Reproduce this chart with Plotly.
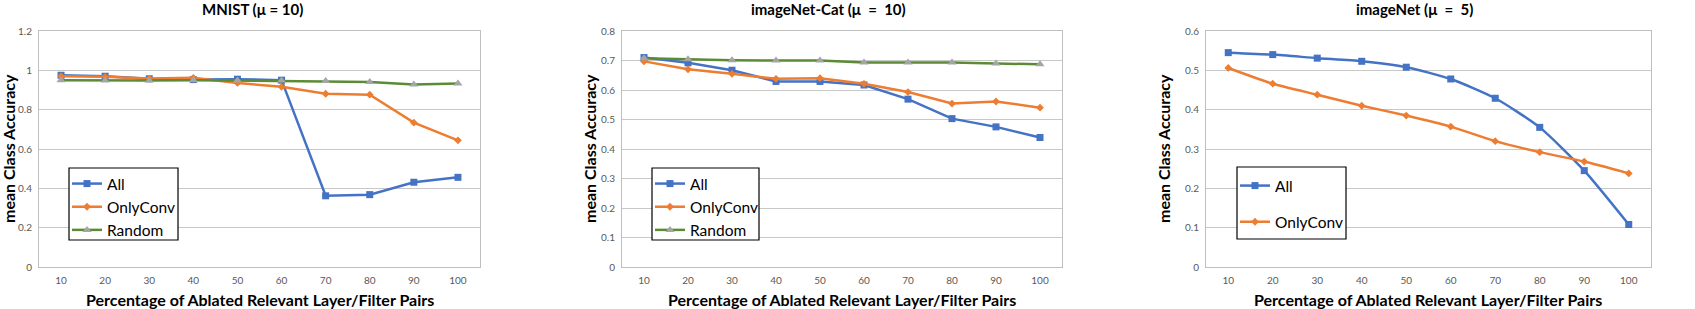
import plotly.graph_objects as go

pct = [10, 20, 30, 40, 50, 60, 70, 80, 90, 100]

mnist_all = [0.975, 0.970, 0.957, 0.953, 0.955, 0.950, 0.362, 0.368, 0.431, 0.456]
mnist_conv = [0.970, 0.967, 0.958, 0.962, 0.936, 0.916, 0.881, 0.876, 0.734, 0.644]
mnist_rand = [0.950, 0.948, 0.948, 0.950, 0.948, 0.948, 0.946, 0.941, 0.928, 0.933]

cat_all = [0.710, 0.692, 0.667, 0.629, 0.629, 0.617, 0.569, 0.503, 0.475, 0.439]
cat_conv = [0.697, 0.670, 0.655, 0.638, 0.640, 0.621, 0.593, 0.554, 0.561, 0.540]
cat_rand = [0.708, 0.704, 0.701, 0.700, 0.700, 0.693, 0.693, 0.693, 0.690, 0.687]

inet_all = [0.545, 0.540, 0.531, 0.523, 0.508, 0.478, 0.429, 0.355, 0.245, 0.108]
inet_conv = [0.506, 0.466, 0.438, 0.410, 0.385, 0.357, 0.320, 0.292, 0.268, 0.238]

titles = ["MNIST (μ = 10)", "imageNet-Cat (μ  =  10)", "imageNet (μ  =  5)"]
x_title = "Percentage of Ablated Relevant Layer/Filter Pairs"
y_title = "mean Class Accuracy"

BLUE = "#4472C4"
ORANGE = "#ED7D31"
GREEN = "#5B8B36"
GRAY = "#A5A5A5"
FONT = "Lato"

W, H = 1695, 309
def px(x):
    return x / W
def py(y):
    return 1 - y / H

fig = go.Figure()

# layout per panel: plot-area box, legend box (left, top, right, bottom)
panels = [
    dict(data=[("All", mnist_all), ("OnlyConv", mnist_conv), ("Random", mnist_rand)],
         xd=(39, 480), yr=(0, 1.2), ydt=0.2, spline=False,
         title_x=252, ytitle_x=9, xtitle_x=260, box=(69, 168, 178, 240), legtop=167, gap=0),
    dict(data=[("All", cat_all), ("OnlyConv", cat_conv), ("Random", cat_rand)],
         xd=(622, 1062), yr=(0, 0.8), ydt=0.1, spline=False,
         title_x=828, ytitle_x=590, xtitle_x=842, box=(652, 168, 759, 240), legtop=167, gap=0),
    dict(data=[("All", inet_all), ("OnlyConv", inet_conv)],
         xd=(1206, 1651), yr=(0, 0.6), ydt=0.1, spline=True,
         title_x=1414, ytitle_x=1164, xtitle_x=1428, box=(1237, 167, 1346, 239), legtop=169, gap=13),
]

styles = {
    "All": dict(line=dict(color=BLUE, width=2.5), marker=dict(symbol="square", size=7, color=BLUE)),
    "OnlyConv": dict(line=dict(color=ORANGE, width=2.5), marker=dict(symbol="diamond", size=6, color=ORANGE)),
    "Random": dict(line=dict(color=GREEN, width=2.5), marker=dict(symbol="triangle-up", size=8, color=GRAY)),
}

annotations = []
shapes = []
for i, p in enumerate(panels):
    n = "" if i == 0 else str(i + 1)
    legname = "legend" if i == 0 else f"legend{i + 1}"
    for name, vals in p["data"]:
        st = styles[name]
        line = dict(st["line"])
        if p["spline"]:
            line["shape"] = "spline"
            line["smoothing"] = 0.6
        fig.add_trace(go.Scatter(
            x=pct, y=vals, name=name, mode="lines+markers",
            line=line, marker=st["marker"],
            xaxis="x" + n, yaxis="y" + n, legend=legname,
            legendgroup=name + n,
        ))
    ticks_y = []
    v = 0.0
    while v <= p["yr"][1] + 1e-9:
        ticks_y.append(round(v, 2))
        v += p["ydt"]
    bl, bt, br, bb = p["box"]
    fig.update_layout(**{
        "xaxis" + n: dict(
            domain=[px(p["xd"][0]), px(p["xd"][1])], range=[5, 105],
            tickvals=pct, ticktext=[str(t) for t in pct],
            showgrid=False, zeroline=False, showline=True, mirror=True,
            linecolor="#BFBFBF", linewidth=1, automargin=False,
            ticks="outside", ticklen=4, tickcolor="rgba(0,0,0,0)",
            tickfont=dict(family=FONT, size=10, color="#595959"),
            anchor="y" + n, fixedrange=True,
        ),
        "yaxis" + n: dict(
            domain=[py(267), py(31)], range=list(p["yr"]),
            tickvals=ticks_y, ticktext=[("%g" % t) for t in ticks_y],
            showgrid=True, gridcolor="#C8C8C8", gridwidth=1,
            zeroline=False, showline=True, mirror=True,
            linecolor="#BFBFBF", linewidth=1, automargin=False,
            ticks="outside", ticklen=4, tickcolor="rgba(0,0,0,0)",
            tickfont=dict(family=FONT, size=10, color="#595959"),
            anchor="x" + n, fixedrange=True,
        ),
        legname: dict(
            x=px(bl - 2), y=py(p["legtop"]), xanchor="left", yanchor="top",
            xref="paper", yref="paper",
            borderwidth=0, bgcolor="rgba(0,0,0,0)",
            font=dict(family=FONT, size=15.5, color="black"),
            tracegroupgap=p["gap"], itemwidth=30,
        ),
    })
    shapes.append(dict(type="rect", xref="paper", yref="paper",
                       x0=px(bl), x1=px(br), y0=py(bb), y1=py(bt),
                       line=dict(color="black", width=1.2), fillcolor="white", layer="above"))
    annotations.append(dict(text="<b>" + titles[i] + "</b>",
                            x=px(p["title_x"]), y=py(9), xref="paper", yref="paper",
                            xanchor="center", yanchor="middle", showarrow=False,
                            font=dict(family=FONT, size=15, color="black")))
    annotations.append(dict(text="<b>" + x_title + "</b>",
                            x=px(p["xtitle_x"]), y=py(299), xref="paper", yref="paper",
                            xanchor="center", yanchor="middle", showarrow=False,
                            font=dict(family=FONT, size=16, color="black")))
    annotations.append(dict(text="<b>" + y_title + "</b>", textangle=-90,
                            x=px(p["ytitle_x"]), y=py(149), xref="paper", yref="paper",
                            xanchor="center", yanchor="middle", showarrow=False,
                            font=dict(family=FONT, size=16, color="black")))

fig.update_layout(
    width=W, height=H, margin=dict(l=0, r=0, t=0, b=0, autoexpand=False),
    paper_bgcolor="white", plot_bgcolor="white",
    annotations=annotations, shapes=shapes, showlegend=True,
)

fig.write_html("out.html", config={"displayModeBar": False},
               post_script="document.body.style.margin='0';document.body.style.padding='0';")
